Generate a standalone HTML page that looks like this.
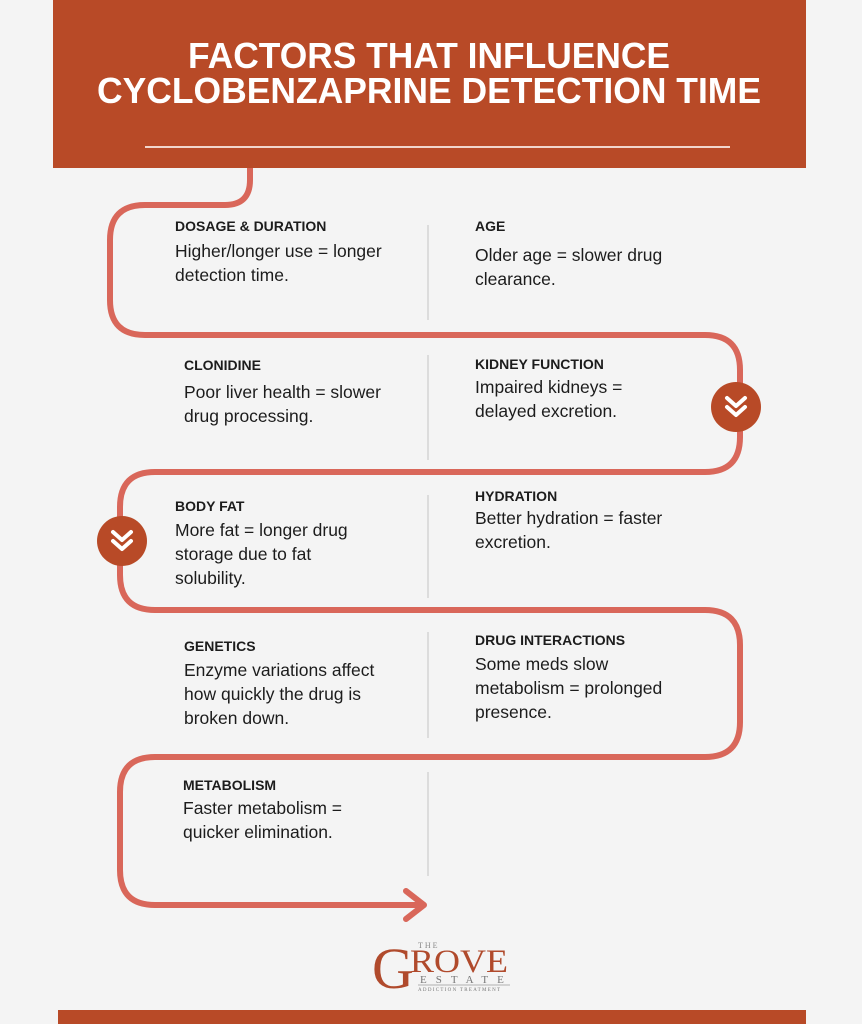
<!DOCTYPE html>
<html><head><meta charset="utf-8"><style>
html,body{margin:0;padding:0;background:#f4f4f4;}
svg{display:block}
</style></head><body>
<svg width="862" height="1024" viewBox="0 0 862 1024" xmlns="http://www.w3.org/2000/svg">
<rect width="862" height="1024" fill="#f4f4f4"/>
<rect x="53" y="0" width="753" height="168" fill="#b84a27"/>
<g font-family="Liberation Sans, sans-serif" font-weight="bold" fill="#fff" font-size="36">
<text x="188" y="68" textLength="482" lengthAdjust="spacingAndGlyphs">FACTORS THAT INFLUENCE</text>
<text x="97" y="103" textLength="664" lengthAdjust="spacingAndGlyphs">CYCLOBENZAPRINE DETECTION TIME</text>
</g>
<line x1="145" y1="147" x2="730" y2="147" stroke="#f1d6cc" stroke-width="2"/>
<path d="M250,168 V180 Q250,205 225,205 H145 Q110,205 110,240 V300 Q110,335 145,335 H705 Q740,335 740,370 V437 Q740,472 705,472 H155 Q120,472 120,507 V575 Q120,610 155,610 H705 Q740,610 740,645 V722 Q740,757 705,757 H155 Q120,757 120,792 V870 Q120,905 155,905 H422" fill="none" stroke="#d9675a" stroke-width="6"/>
<path d="M406,891 L424,905 L406,919" fill="none" stroke="#d9675a" stroke-width="6" stroke-linecap="round" stroke-linejoin="round"/>
<g fill="#b84a27"><circle cx="736" cy="407" r="25"/><circle cx="122" cy="541" r="25"/></g>
<g fill="none" stroke="#fff" stroke-width="4" stroke-linecap="round" stroke-linejoin="round">
<path d="M727,398 L736,406 L745,398 M727,407 L736,415 L745,407"/>
<path d="M113,532 L122,540 L131,532 M113,541 L122,549 L131,541"/>
</g>
<g stroke="#d4d4d4" stroke-width="1.5">
<line x1="428" y1="225" x2="428" y2="320"/><line x1="428" y1="355" x2="428" y2="460"/>
<line x1="428" y1="495" x2="428" y2="598"/><line x1="428" y1="632" x2="428" y2="738"/>
<line x1="428" y1="772" x2="428" y2="876"/>
</g>
<g font-family="Liberation Sans, sans-serif" fill="#1c1c1c">
<g font-weight="bold" font-size="14">
<text x="175" y="231">DOSAGE &amp; DURATION</text>
<text x="475" y="231">AGE</text>
<text x="184" y="370">CLONIDINE</text>
<text x="475" y="369">KIDNEY FUNCTION</text>
<text x="175" y="511">BODY FAT</text>
<text x="475" y="501">HYDRATION</text>
<text x="184" y="651">GENETICS</text>
<text x="475" y="645">DRUG INTERACTIONS</text>
<text x="183" y="790">METABOLISM</text>
</g>
<g font-size="17.5">
<text x="175" y="257">Higher/longer use = longer</text><text x="175" y="281">detection time.</text>
<text x="475" y="261">Older age = slower drug</text><text x="475" y="285">clearance.</text>
<text x="184" y="398">Poor liver health = slower</text><text x="184" y="422">drug processing.</text>
<text x="475" y="393">Impaired kidneys =</text><text x="475" y="417">delayed excretion.</text>
<text x="175" y="536">More fat = longer drug</text><text x="175" y="560">storage due to fat</text><text x="175" y="584">solubility.</text>
<text x="475" y="524">Better hydration = faster</text><text x="475" y="548">excretion.</text>
<text x="184" y="676">Enzyme variations affect</text><text x="184" y="700">how quickly the drug is</text><text x="184" y="724">broken down.</text>
<text x="475" y="670">Some meds slow</text><text x="475" y="694">metabolism = prolonged</text><text x="475" y="718">presence.</text>
<text x="183" y="814">Faster metabolism =</text><text x="183" y="838">quicker elimination.</text>
</g>
</g>
<g font-family="Liberation Serif, serif">
<text x="372" y="988" font-size="58" fill="#b04a2c">G</text>
<text x="410" y="972" font-size="33" fill="#b04a2c" textLength="98" lengthAdjust="spacingAndGlyphs">ROVE</text>
<text x="418" y="948" font-size="8" fill="#888" letter-spacing="2">THE</text>
<text x="420" y="983" font-size="11" fill="#777" letter-spacing="9">ESTATE</text>
<line x1="418" y1="985" x2="510" y2="985" stroke="#999" stroke-width="0.7"/>
<text x="418" y="991" font-size="5" fill="#777" letter-spacing="1.3">ADDICTION TREATMENT</text>
</g>
<rect x="58" y="1010" width="748" height="14" fill="#b84a27"/>
</svg>
</body></html>
